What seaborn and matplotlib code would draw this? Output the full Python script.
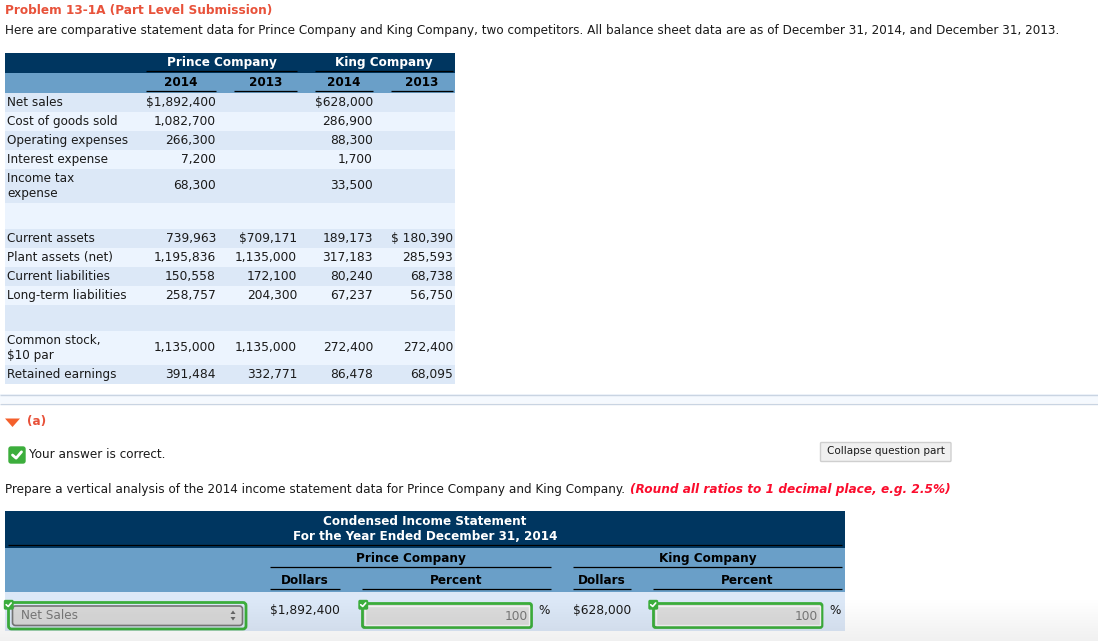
import numpy as np
import matplotlib
matplotlib.use("Agg")
import matplotlib.pyplot as plt
from matplotlib.patches import FancyBboxPatch, Polygon, Rectangle
import seaborn as sns

W, H = 1098, 641

# statement data
row_labels = ["Net sales", "Cost of goods sold", "Operating expenses", "Interest expense",
              "Income tax\nexpense", "", "Current assets", "Plant assets (net)",
              "Current liabilities", "Long-term liabilities", "",
              "Common stock,\n$10 par", "Retained earnings"]
prince_2014 = ["$1,892,400", "1,082,700", "266,300", "7,200", "68,300", "",
               "739,963", "1,195,836", "150,558", "258,757", "", "1,135,000", "391,484"]
prince_2013 = ["", "", "", "", "", "",
               "$709,171", "1,135,000", "172,100", "204,300", "", "1,135,000", "332,771"]
king_2014 = ["$628,000", "286,900", "88,300", "1,700", "33,500", "",
             "189,173", "317,183", "80,240", "67,237", "", "272,400", "86,478"]
king_2013 = ["", "", "", "", "", "",
             "$ 180,390", "285,593", "68,738", "56,750", "", "272,400", "68,095"]
year_labels = ["2014", "2013", "2014", "2013"]
company_labels = ["Prince Company", "King Company"]

answer_label = "Net Sales"
answer_prince_dollars = "$1,892,400"
answer_king_dollars = "$628,000"
answer_percent = "100"

# row edges in pixels
edges_top = [53, 73, 93, 112, 131, 150, 169, 203, 229, 248, 267, 286, 305, 331, 365, 384]
edges_bottom = [511, 548, 592, 631]

NAVY = "#003660"
MID = "#6a9fc8"
BAND_A = "#dce8f7"
BAND_B = "#ecf4fe"
GREEN = "#3cae3c"
TXT = "#1a1a1a"
FS = 8.63
FS_NUM = 8.8
FS_BOLD = 8.63

sns.set_theme(style="white")
plt.rcParams["font.family"] = ["DejaVu Sans"]

fig = plt.figure(figsize=(W / 100, H / 100), dpi=100)


def band_axes(x0, x1, y0, y1):
    a = fig.add_axes([x0 / W, 1 - y1 / H, (x1 - x0) / W, (y1 - y0) / H])
    a.set_axis_off()
    return a


def draw_bands(x0, x1, edges, colors):
    a = band_axes(x0, x1, edges[0], edges[-1])
    for top, bot, c in zip(edges[:-1], edges[1:], colors):
        sns.barplot(x=[x1 - x0], y=[(top + bot) / 2], orient="y", native_scale=True,
                    width=bot - top, color=c, saturation=1, errorbar=None, linewidth=0, ax=a)
    a.set_xlim(0, x1 - x0)
    a.set_ylim(edges[-1], edges[0])
    a.set_axis_off()


top_colors = [NAVY, MID] + [BAND_A if i % 2 == 0 else BAND_B for i in range(len(row_labels))]
draw_bands(5, 455, edges_top, top_colors)
draw_bands(5, 845, edges_bottom, [NAVY, MID, BAND_A])

ax = fig.add_axes([0, 0, 1, 1], zorder=5)
ax.patch.set_alpha(0)
ax.set_xlim(0, W)
ax.set_ylim(H, 0)
ax.set_axis_off()


def txt(x, y, s, ha="left", color=TXT, size=FS, **kw):
    if kw.get("weight") == "bold":
        size = FS_BOLD if size == FS else size
    ax.text(x, y, s, ha=ha, va="center", color=color, fontsize=size, zorder=6, **kw)


def rule(x0, x1, y, color="black", lw=0.9):
    ax.plot([x0, x1], [y, y], color=color, lw=lw, solid_capstyle="butt")


def tick_mark(x, y, s, lw=1.6):
    ax.plot([x - s, x - s * 0.2, x + s], [y, y + s * 0.7, y - s * 0.7], color="white",
            lw=lw, solid_capstyle="round", zorder=9)


def rounded(x0, y0, x1, y1, face, edge, lw=1.0, r=2, z=4):
    ax.add_patch(FancyBboxPatch((x0 + r, y0 + r), x1 - x0 - 2 * r, y1 - y0 - 2 * r,
                                boxstyle=f"round,pad={r},rounding_size={r}",
                                fc=face, ec=edge, lw=lw, zorder=z))


# heading
txt(5, 10.5, "Problem 13-1A (Part Level Submission)", color="#e8523a", weight="bold", size=8.72)
txt(5, 30.5, "Here are comparative statement data for Prince Company and King Company, two competitors. "
             "All balance sheet data are as of December 31, 2014, and December 31, 2013.")

# first table header
txt(221.5, 62.5, company_labels[0], ha="center", color="white", weight="bold")
txt(384, 62.5, company_labels[1], ha="center", color="white", weight="bold")
rule(146, 297, 70.5)
rule(315, 453, 70.5)
for label, xc, x0, x1 in zip(year_labels, [181, 265.5, 344, 422], [146, 234, 315, 391], [216, 297, 373, 453]):
    txt(xc, 82.5, label, ha="center", weight="bold", color="black")
    rule(x0, x1, 90.5)

# first table rows
for i, label in enumerate(row_labels):
    yc = (edges_top[i + 2] + edges_top[i + 3]) / 2
    txt(7, yc, label, linespacing=1.25)
    txt(216, yc, prince_2014[i], ha="right", size=FS_NUM)
    txt(297, yc, prince_2013[i], ha="right", size=FS_NUM)
    txt(373, yc, king_2014[i], ha="right", size=FS_NUM)
    txt(453, yc, king_2013[i], ha="right", size=FS_NUM)

# separator
ax.add_patch(Rectangle((0, 394), W, 9, fc="#f5f9fe", ec="none"))
rule(0, W, 394.5, color="#c9d4e2", lw=1.0)
rule(0, W, 403.5, color="#c9d4e2", lw=1.0)

# part (a)
ax.add_patch(Polygon([(5, 418.5), (20, 418.5), (12.5, 427)], fc="#f4602c", ec="none"))
txt(27, 421.5, "(a)", color="#e8523a", weight="bold")
rounded(9, 447, 25, 463, GREEN, GREEN, r=2)
tick_mark(17, 455, 4.5, lw=2)
txt(29, 454.5, "Your answer is correct.")
rounded(820.5, 442.5, 951, 461.5, "#f0f0f0", "#cfcfcf", lw=1.0, r=1)
txt(885.5, 451.5, "Collapse question part", ha="center", size=7.5)

instruction = "Prepare a vertical analysis of the 2014 income statement data for Prince Company and King Company. "
txt(5, 489, instruction)
txt(630, 489, "(Round all ratios to 1 decimal place, e.g. 2.5%)", color="#fb0d2d", weight="bold",
    style="italic", size=8.7)

# second table header
txt(425, 521.5, "Condensed Income Statement", ha="center", color="white", weight="bold")
txt(425, 536.5, "For the Year Ended December 31, 2014", ha="center", color="white", weight="bold")
rule(8, 842, 544.5)
txt(410.5, 558.5, company_labels[0], ha="center", weight="bold", color="black")
txt(707.5, 558.5, company_labels[1], ha="center", weight="bold", color="black")
rule(270, 551, 566.5)
rule(573, 842, 566.5)
for label, xc, x0, x1 in zip(["Dollars", "Percent", "Dollars", "Percent"], [305, 456.5, 602, 747.5],
                             [270, 362, 573, 653], [340, 551, 631, 842]):
    txt(xc, 580.5, label, ha="center", weight="bold", color="black")
    rule(x0, x1, 588.5)

# answer row
rounded(8.5, 602.5, 246, 629, "none", GREEN, lw=2, r=3)
rounded(12.5, 606, 242.5, 625.5, "#d8d8d8", "#777777", lw=1.2, r=3)
txt(21, 615.5, answer_label, color="#777777")
ax.add_patch(Polygon([(230.5, 614), (235.5, 614), (233, 610.5)], fc="#666666", ec="none", zorder=5))
ax.add_patch(Polygon([(230.5, 617), (235.5, 617), (233, 620.5)], fc="#666666", ec="none", zorder=5))
txt(340, 611, answer_prince_dollars, ha="right", size=FS_NUM)
txt(631, 611, answer_king_dollars, ha="right", size=FS_NUM)

for x0, x1 in [(362.5, 531.5), (653.5, 822)]:
    rounded(x0, 603.5, x1, 627.5, "#dcdcdc", GREEN, lw=2, r=2)
    ax.add_patch(Rectangle((x0 + 2.5, 606), x1 - x0 - 5, 19, fc="#dcdcdc", ec="#f4f4f4", lw=1, zorder=4))
    txt(x1 - 4, 616.5, answer_percent, ha="right", color="#777777", size=FS_NUM)
txt(544, 611, "%", ha="center")
txt(835.5, 611, "%", ha="center")

# little check badges
for x, y in [(8.5, 604.5), (363, 604.5), (653, 604.5)]:
    rounded(x - 4, y - 4, x + 4.5, y + 4.5, GREEN, GREEN, r=1, z=7)
    tick_mark(x + 0.2, y + 0.2, 2.5, lw=1.2)

# fade at the bottom of the page
fade = np.zeros((50, 1, 4))
fade[:, 0, 3] = np.linspace(0, 0.06, 50)
ax.imshow(fade, extent=(0, W, H, 597), aspect="auto", zorder=10, interpolation="bilinear")
ax.set_xlim(0, W)
ax.set_ylim(H, 0)

fig.savefig("out.png", dpi=100)
